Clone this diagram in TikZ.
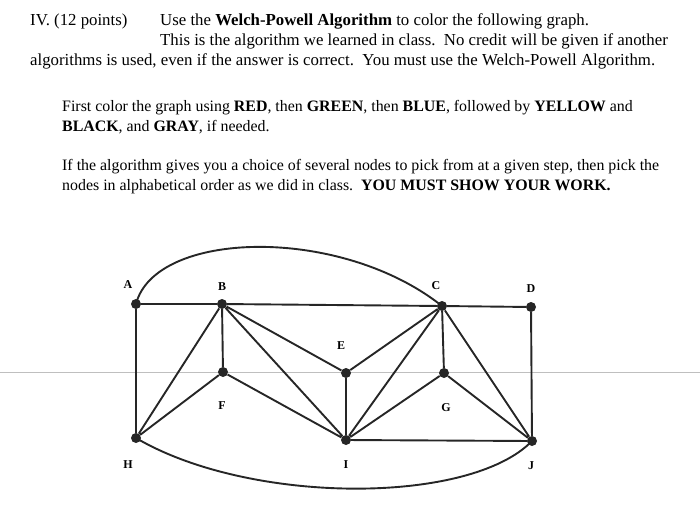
\documentclass[tikz,border=0pt]{standalone}
\usepackage{fontspec}
\setmainfont{Liberation Serif}
\begin{document}
\begin{tikzpicture}[x=1pt,y=-1pt,
  vtx/.style={circle,fill=black!85,inner sep=0pt,minimum size=10pt},
  lbl/.style={font=\fontsize{12}{14}\selectfont\bfseries},
  txt/.style={anchor=base west,inner sep=0pt,font=\fontsize{16.8}{19}\selectfont},
  txs/.style={anchor=base west,inner sep=0pt,font=\fontsize{15.9}{19}\selectfont},
  edge/.style={line width=1.9pt,black!85}]
\useasboundingbox (0,0) rectangle (700,522);
\node[txt] (t1) at (30,25) {IV. (12 points)};
\node[txt] (t2) at (160,25) {Use the \textbf{Welch-Powell Algorithm} to color the following graph.};
\node[txt] (t3) at (160,45) {This is the algorithm we learned in class.\ \ No credit will be given if another};
\node[txt] (t4) at (30,65) {algorithms is used, even if the answer is correct.\ \ You must use the Welch-Powell Algorithm.};
\node[txs] (t5) at (62,111) {First color the graph using \textbf{RED}, then \textbf{GREEN}, then \textbf{BLUE}, followed by \textbf{YELLOW} and};
\node[txs] (t6) at (62,131) {\textbf{BLACK}, and \textbf{GRAY}, if needed.};
\node[txs] (t7) at (62,170) {If the algorithm gives you a choice of several nodes to pick from at a given step, then pick the};
\node[txs] (t8) at (62,190) {nodes in alphabetical order as we did in class.\ \ \textbf{YOU MUST SHOW YOUR WORK.}};
\draw[black!25,line width=0.4pt] (0,372) -- (700,372);
\node[vtx] (A) at (136,304) {};
\node[vtx] (B) at (222,304) {};
\node[vtx] (C) at (442,306) {};
\node[vtx] (D) at (531,307) {};
\node[vtx] (E) at (346,373) {};
\node[vtx] (F) at (223,372) {};
\node[vtx] (G) at (444,373) {};
\node[vtx] (H) at (136,438) {};
\node[vtx] (I) at (346,440) {};
\node[vtx] (J) at (532,441) {};
\node[lbl] (lA) at (128,285) {A};
\node[lbl] (lB) at (222,287) {B};
\node[lbl] (lC) at (436,286) {C};
\node[lbl] (lD) at (531,289) {D};
\node[lbl] (lE) at (341,346) {E};
\node[lbl] (lF) at (222,406) {F};
\node[lbl] (lG) at (446,408) {G};
\node[lbl] (lH) at (128,465) {H};
\node[lbl] (lI) at (346,465) {I};
\node[lbl] (lJ) at (531,466) {J};
\draw[edge] (A)--(B) (B)--(C) (C)--(D) (A)--(H) (B)--(H) (B)--(F) (B)--(E) (B)--(I)
  (F)--(H) (F)--(I) (E)--(C) (E)--(I) (C)--(I) (C)--(G) (C)--(J) (G)--(I) (G)--(J)
  (I)--(J) (D)--(J);
\draw[edge] (A.center) .. controls (155,230) and (340,225) .. (C.center);
\draw[edge] (H.center) .. controls (250,505) and (470,505) .. (J.center);
\end{tikzpicture}
\end{document}
